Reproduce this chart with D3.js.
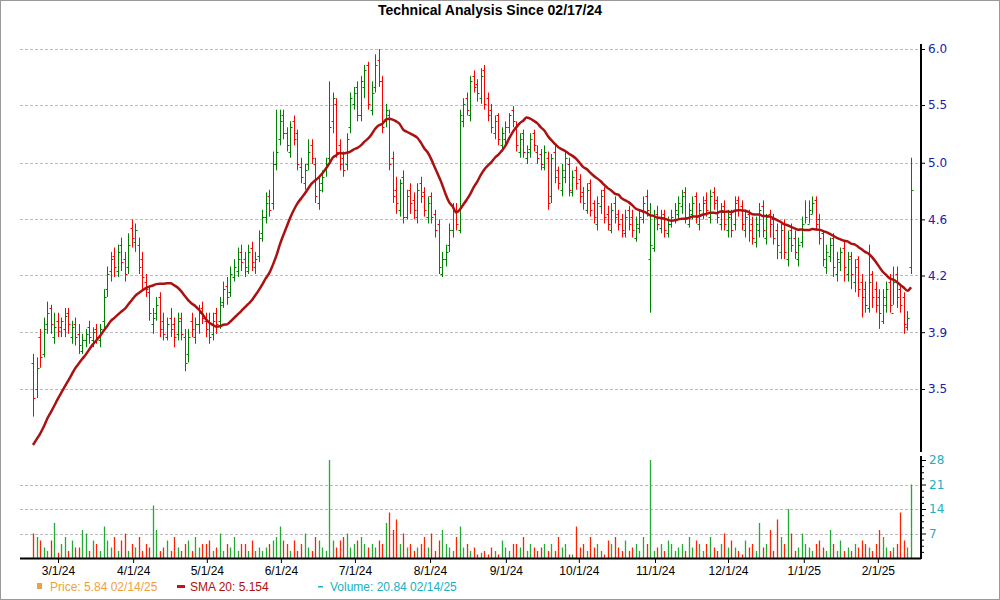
<!DOCTYPE html>
<html><head><meta charset="utf-8">
<script src="https://cdn.jsdelivr.net/npm/d3@7"></script>
<style>body{margin:0;background:#fff}svg{display:block;font-family:"DejaVu Sans",Verdana,sans-serif}</style>
</head><body><svg id="c" width="1000" height="600"></svg>
<script>
const priorCloses=[3.05,3.1,3.15,3.1,3.2,3.15,3.1,3.2,3.25,3.2,3.15,3.1,3.2,3.25,3.3,3.2,3.25,3.3,3.35];
const closes=[3.45,3.62,3.68,3.85,3.95,3.88,3.86,3.84,3.90,3.93,
3.88,3.86,3.80,3.75,3.78,3.82,3.80,3.83,3.80,3.85,
4.05,4.20,4.30,4.25,4.35,4.28,4.20,4.40,4.45,4.50,
4.25,4.18,4.10,3.95,3.92,4.00,3.85,3.82,3.88,3.85,
3.80,3.90,3.82,3.65,3.80,3.85,3.88,3.95,3.92,3.85,
3.80,3.90,3.88,4.00,4.10,4.05,4.20,4.25,4.30,4.28,
4.25,4.35,4.28,4.30,4.45,4.60,4.70,4.65,5.00,5.10,
5.35,5.25,5.15,5.30,5.20,5.00,4.90,4.95,5.10,5.05,
4.75,4.80,4.90,5.00,5.30,5.55,5.10,5.00,4.95,5.20,
5.55,5.60,5.40,5.70,5.80,5.50,5.60,5.85,5.70,5.30,
5.45,5.00,4.75,4.70,4.85,4.60,4.75,4.70,4.65,4.80,
4.75,4.65,4.70,4.60,4.50,4.25,4.30,4.35,4.50,4.65,
4.55,5.40,5.50,5.45,5.70,5.65,5.60,5.75,5.50,5.40,
5.30,5.35,5.20,5.25,5.30,5.40,5.35,5.15,5.20,5.10,
5.10,5.20,5.15,5.05,5.00,5.10,4.70,5.05,4.90,4.85,
4.95,5.05,4.80,4.90,4.85,4.75,4.70,4.80,4.65,4.60,
4.70,4.75,4.60,4.55,4.65,4.60,4.55,4.50,4.60,4.55,
4.50,4.55,4.60,4.70,4.65,4.40,4.60,4.55,4.60,4.50,
4.55,4.60,4.65,4.70,4.75,4.60,4.65,4.70,4.60,4.65,
4.70,4.65,4.75,4.70,4.60,4.65,4.55,4.60,4.50,4.70,
4.65,4.55,4.60,4.50,4.45,4.55,4.65,4.50,4.60,4.55,
4.45,4.40,4.50,4.35,4.45,4.40,4.35,4.40,4.55,4.60,
4.65,4.70,4.55,4.45,4.30,4.35,4.40,4.25,4.30,4.35,
4.25,4.30,4.20,4.25,4.10,4.05,4.00,4.15,4.05,4.00,
3.95,4.05,4.10,4.00,4.15,4.05,4.00,3.88,3.92,4.80];
const opens=[3.65,3.50,3.80,3.70,3.88,3.98,3.80,3.90,3.86,3.85,
3.95,3.80,3.88,3.82,3.72,3.78,3.86,3.78,3.85,3.78,
3.90,4.10,4.22,4.32,4.22,4.40,4.30,4.25,4.52,4.42,
4.40,4.30,4.15,4.08,3.88,3.95,4.05,3.90,3.80,3.92,
3.88,3.82,3.92,3.80,3.70,3.90,3.80,3.88,3.98,3.90,
3.90,3.82,3.95,3.90,4.02,4.12,4.08,4.18,4.22,4.35,
4.30,4.22,4.38,4.25,4.32,4.48,4.60,4.75,4.70,5.00,
5.20,5.40,5.25,5.10,5.35,5.25,4.98,4.85,5.00,5.15,
5.00,4.70,4.85,4.95,5.05,5.35,5.50,5.15,5.05,5.00,
5.30,5.50,5.65,5.40,5.65,5.85,5.45,5.65,5.90,5.70,
5.35,5.40,5.05,4.80,4.65,4.90,4.60,4.80,4.72,4.60,
4.85,4.78,4.60,4.75,4.62,4.55,4.20,4.30,4.40,4.50,
4.65,4.50,5.35,5.55,5.40,5.75,5.68,5.55,5.80,5.55,
5.45,5.25,5.40,5.15,5.20,5.30,5.45,5.30,5.10,5.25,
5.05,5.12,5.25,5.10,5.08,4.98,5.05,4.75,5.10,4.95,
4.80,4.90,5.00,4.78,4.95,4.88,4.78,4.65,4.85,4.70,
4.55,4.68,4.80,4.62,4.50,4.70,4.62,4.58,4.48,4.65,
4.60,4.45,4.52,4.58,4.75,4.30,4.38,4.62,4.52,4.62,
4.48,4.55,4.58,4.62,4.68,4.78,4.55,4.62,4.75,4.55,
4.62,4.72,4.60,4.78,4.72,4.55,4.68,4.50,4.62,4.55,
4.72,4.68,4.50,4.62,4.55,4.42,4.50,4.68,4.45,4.62,
4.58,4.50,4.35,4.55,4.30,4.50,4.45,4.30,4.42,4.50,
4.55,4.62,4.72,4.58,4.48,4.25,4.32,4.45,4.20,4.28,
4.38,4.20,4.32,4.15,4.30,4.15,4.10,3.98,4.20,4.10,
4.05,3.90,4.00,4.15,3.95,4.20,4.10,4.05,3.86,4.25];
const highs=[3.70,3.68,3.85,3.92,4.02,4.00,3.95,3.95,3.92,3.98,
3.98,3.90,3.92,3.88,3.82,3.85,3.90,3.86,3.88,3.88,
4.10,4.25,4.35,4.38,4.40,4.45,4.35,4.48,4.58,4.55,
4.45,4.35,4.20,4.12,3.98,4.05,4.08,3.95,3.92,3.98,
3.92,3.95,3.95,3.85,3.85,3.95,3.92,4.00,4.02,3.95,
3.95,3.95,3.98,4.05,4.15,4.18,4.25,4.30,4.38,4.40,
4.35,4.40,4.42,4.35,4.50,4.65,4.78,4.80,5.10,5.45,
5.45,5.45,5.30,5.35,5.40,5.28,5.05,5.00,5.20,5.20,
5.05,4.90,4.95,5.05,5.70,5.60,5.55,5.20,5.10,5.25,
5.60,5.65,5.70,5.75,5.85,5.88,5.70,5.95,6.00,5.75,
5.50,5.45,5.10,4.90,4.88,4.95,4.80,4.85,4.78,4.85,
4.90,4.82,4.75,4.78,4.65,4.58,4.35,4.40,4.55,4.70,
4.70,5.45,5.55,5.60,5.75,5.80,5.72,5.82,5.85,5.60,
5.50,5.40,5.42,5.30,5.35,5.42,5.48,5.35,5.25,5.28,
5.15,5.25,5.28,5.15,5.12,5.15,5.10,5.08,5.15,4.98,
5.00,5.10,5.05,4.95,4.98,4.92,4.82,4.85,4.88,4.72,
4.75,4.80,4.82,4.68,4.70,4.75,4.65,4.62,4.65,4.68,
4.65,4.60,4.65,4.75,4.80,4.70,4.65,4.68,4.65,4.65,
4.60,4.65,4.70,4.75,4.80,4.82,4.70,4.75,4.78,4.70,
4.75,4.78,4.80,4.82,4.75,4.70,4.72,4.65,4.65,4.75,
4.75,4.72,4.65,4.65,4.60,4.60,4.70,4.72,4.62,4.65,
4.62,4.55,4.55,4.58,4.50,4.55,4.50,4.45,4.60,4.72,
4.72,4.75,4.75,4.62,4.50,4.40,4.45,4.48,4.35,4.38,
4.42,4.35,4.35,4.30,4.32,4.20,4.15,4.40,4.22,4.15,
4.10,4.10,4.15,4.20,4.25,4.25,4.12,4.08,3.96,5.05];
const lows=[3.35,3.45,3.62,3.68,3.82,3.82,3.76,3.80,3.80,3.80,
3.82,3.76,3.75,3.70,3.70,3.74,3.76,3.74,3.76,3.74,
3.85,4.05,4.15,4.18,4.18,4.22,4.15,4.20,4.38,4.35,
4.20,4.10,4.05,3.90,3.82,3.90,3.80,3.78,3.78,3.80,
3.74,3.78,3.78,3.60,3.65,3.80,3.76,3.82,3.88,3.80,
3.76,3.78,3.82,3.85,3.98,4.00,4.05,4.15,4.18,4.22,
4.18,4.20,4.22,4.20,4.28,4.42,4.55,4.60,4.65,4.95,
5.15,5.20,5.10,5.05,5.15,4.95,4.85,4.80,4.95,5.00,
4.70,4.65,4.78,4.90,5.00,5.25,5.05,4.95,4.90,4.95,
5.25,5.45,5.35,5.35,5.55,5.45,5.40,5.60,5.65,5.25,
5.30,4.95,4.70,4.62,4.60,4.55,4.58,4.62,4.58,4.55,
4.70,4.60,4.55,4.55,4.45,4.20,4.18,4.25,4.35,4.45,
4.50,4.48,5.30,5.40,5.35,5.60,5.52,5.50,5.45,5.35,
5.25,5.20,5.15,5.10,5.15,5.25,5.30,5.10,5.05,5.05,
5.00,5.05,5.10,5.00,4.95,4.95,4.65,4.70,4.85,4.80,
4.75,4.85,4.75,4.75,4.80,4.70,4.65,4.62,4.60,4.55,
4.50,4.62,4.55,4.50,4.48,4.55,4.50,4.45,4.45,4.50,
4.45,4.42,4.48,4.55,4.60,3.95,4.35,4.50,4.48,4.45,
4.45,4.52,4.55,4.58,4.62,4.55,4.52,4.58,4.55,4.50,
4.58,4.60,4.55,4.65,4.55,4.50,4.50,4.45,4.45,4.50,
4.60,4.50,4.45,4.42,4.40,4.38,4.45,4.45,4.40,4.45,
4.40,4.30,4.30,4.30,4.25,4.35,4.30,4.25,4.38,4.55,
4.55,4.62,4.50,4.40,4.25,4.20,4.28,4.18,4.15,4.22,
4.15,4.15,4.10,4.08,4.05,3.92,3.95,3.95,3.98,3.95,
3.85,3.88,3.95,3.95,4.00,3.98,3.95,3.82,3.84,4.20];
const volumes=[7,6,5,3,2,5,10,1.5,4,6,
2,5,3,3,8,7,2,5,4,2,
9,5,3,6,2,5,7,2,4,3,
6,2,4,3,15,8,2,3,5,2,
6,3,2,4,5,2,6,3,4,4,
5,2,3,7,2,4,3,6,2,4,
4,2,5,2,3,2,3,4,5,6,
9,5,4,2,5,2,4,7,3,2,
6,5,3,2,28,5,3,5,6,7,
3,4,5,6,4,3,4,3,5,4,
10,13,8,11,4,7,3,4,2,3,
4,6,3,7,2,5,8,4,3,2,
6,9,3,4,2,3,1,1.5,2,1,
3,2,1,5,3,2,4,4,3,6,
2,4,3,2,3,4,2,4,2,6,
3,4,1,1,9,3,4,2,6,3,
4,2,1,5,4,6,3,2,5,2,
3,4,2,6,4,28,2,3,4,2,
5,4,2,3,4,2,6,3,5,4,
2,4,6,3,2,4,7,3,5,3,
2,1,5,3,4,2,10,3,4,8,
2,11,6,4,14,7,2,3,7,4,
3,2,4,5,3,2,8,4,2,5,
2,3,2,4,3,5,4,3,2,4,
8,6,3,2,3,4,13,5,3,21];
const monthIdx=[7.1,28.4,49.3,70.3,91.3,112.6,134.1,154.8,176.4,197.1,218.6,239.6];
const monthLabels=["3/1/24","4/1/24","5/1/24","6/1/24","7/1/24","8/1/24","9/1/24","10/1/24","11/1/24","12/1/24","1/1/25","2/1/25"];
const priceTicks=[3.5,3.83,4.19,4.58,5.01,5.49,6.0];
const priceTickLabels=["3.5","3.9","4.2","4.6","5.0","5.5","6.0"];
const volTicks=[7,14,21,28];

const svg=d3.select("#c");
const N=closes.length;
const x=d3.scaleLinear().domain([0,N-1]).range([33,911]);
const y=d3.scaleLog().domain([3.5,6.0]).range([389,49]);
const yv=d3.scaleLinear().domain([0,28]).range([558,460]);
const L=20,R=921;
svg.append("rect").attr("x",0.5).attr("y",0.5).attr("width",999).attr("height",599).attr("fill","none").attr("stroke","#999");
svg.append("text").attr("x",490).attr("y",15).attr("text-anchor","middle").attr("font-size",14).attr("font-weight","bold").attr("font-family","Liberation Sans, Arial").text("Technical Analysis Since 02/17/24");
priceTicks.forEach(v=>svg.append("line").attr("x1",L).attr("x2",R).attr("y1",Math.round(y(v))+.5).attr("y2",Math.round(y(v))+.5).attr("stroke","#bbb").attr("stroke-dasharray","3,2"));
volTicks.slice(0,3).forEach(v=>svg.append("line").attr("x1",L).attr("x2",R).attr("y1",Math.round(yv(v))+.5).attr("y2",Math.round(yv(v))+.5).attr("stroke","#bbb").attr("stroke-dasharray","3,2"));
const ay=svg.append("g").attr("transform",`translate(${R},0)`).call(d3.axisRight(y).tickValues(priceTicks).tickFormat((d,i)=>priceTickLabels[i]).tickSize(4));
ay.selectAll("text").attr("fill","#2020b0");
const minor=d3.range(1,29).map(d=>d*1.75).filter(d=>d<=28&&d%7!==0);
svg.append("g").attr("transform",`translate(${R},0)`).call(d3.axisRight(yv).tickValues(minor).tickFormat("").tickSize(3)).select(".domain").remove();
const av=svg.append("g").attr("transform",`translate(${R},0)`).call(d3.axisRight(yv).tickValues(volTicks).tickSize(5));
av.selectAll("text").attr("fill","#20b0c0");
[ay,av].forEach(g=>{g.select(".domain").remove();g.selectAll("text").attr("font-size",12).attr("font-family","DejaVu Sans");});
svg.selectAll(".tick line").attr("stroke","#000");
svg.append("line").attr("x1",R).attr("x2",R).attr("y1",44).attr("y2",452).attr("stroke","#000").attr("stroke-width",2);
svg.append("line").attr("x1",R).attr("x2",R).attr("y1",456).attr("y2",559).attr("stroke","#000").attr("stroke-width",2);
const bars=svg.append("g");
for(let i=0;i<N;i++){
  const up=closes[i]>=opens[i];
  const col=up?"#008000":"#ff0000";
  const cx=Math.round(x(i))+.5;
  bars.append("line").attr("x1",cx).attr("x2",cx).attr("y1",y(highs[i])).attr("y2",y(lows[i])).attr("stroke",col);
  bars.append("line").attr("x1",cx-2).attr("x2",cx).attr("y1",Math.round(y(opens[i]))+.5).attr("y2",Math.round(y(opens[i]))+.5).attr("stroke",col);
  bars.append("line").attr("x1",cx).attr("x2",cx+2).attr("y1",Math.round(y(closes[i]))+.5).attr("y2",Math.round(y(closes[i]))+.5).attr("stroke",col);
  svg.append("line").attr("x1",cx).attr("x2",cx).attr("y1",yv(0)).attr("y2",yv(volumes[i])).attr("stroke",up?"#22aa33":"#ff2200").attr("stroke-width",1.3);
}
const all=priorCloses.concat(closes);
const sma=closes.map((c,i)=>d3.mean(all.slice(i,i+20)));
svg.append("path").datum(sma).attr("fill","none").attr("stroke","#aa1111").attr("stroke-width",2.5).attr("d",d3.line().x((d,i)=>x(i)).y(d=>y(d)).curve(d3.curveMonotoneX));
svg.append("line").attr("x1",L).attr("x2",R).attr("y1",558.5).attr("y2",558.5).attr("stroke","#000").attr("stroke-width",2);
const ax=svg.append("g").attr("transform","translate(0,559)").call(d3.axisBottom(x).tickValues(monthIdx).tickFormat((d,i)=>monthLabels[i]).tickSize(4));
ax.select(".domain").remove();
ax.selectAll("line").attr("stroke","#000");
ax.selectAll("text").attr("font-size",12).attr("font-family","Liberation Sans, Arial").attr("fill","#000").attr("y",16).attr("dy",0);
const lg=svg.append("g").attr("font-size",12).attr("font-family","Liberation Sans, Arial");
lg.append("rect").attr("x",37).attr("y",583).attr("width",5).attr("height",6).attr("fill","#f0a040");
lg.append("text").attr("x",50).attr("y",591).attr("fill","#f0a040").text("Price: 5.84  02/14/25");
lg.append("rect").attr("x",177).attr("y",585).attr("width",8).attr("height",3).attr("fill","#cc1111");
lg.append("text").attr("x",190).attr("y",591).attr("fill","#b01010").text("SMA 20: 5.154");
lg.append("rect").attr("x",318).attr("y",586).attr("width",5).attr("height",1.5).attr("fill","#20b0c0");
lg.append("text").attr("x",330).attr("y",591).attr("fill","#20b0c0").text("Volume: 20.84  02/14/25");
</script></body></html>
